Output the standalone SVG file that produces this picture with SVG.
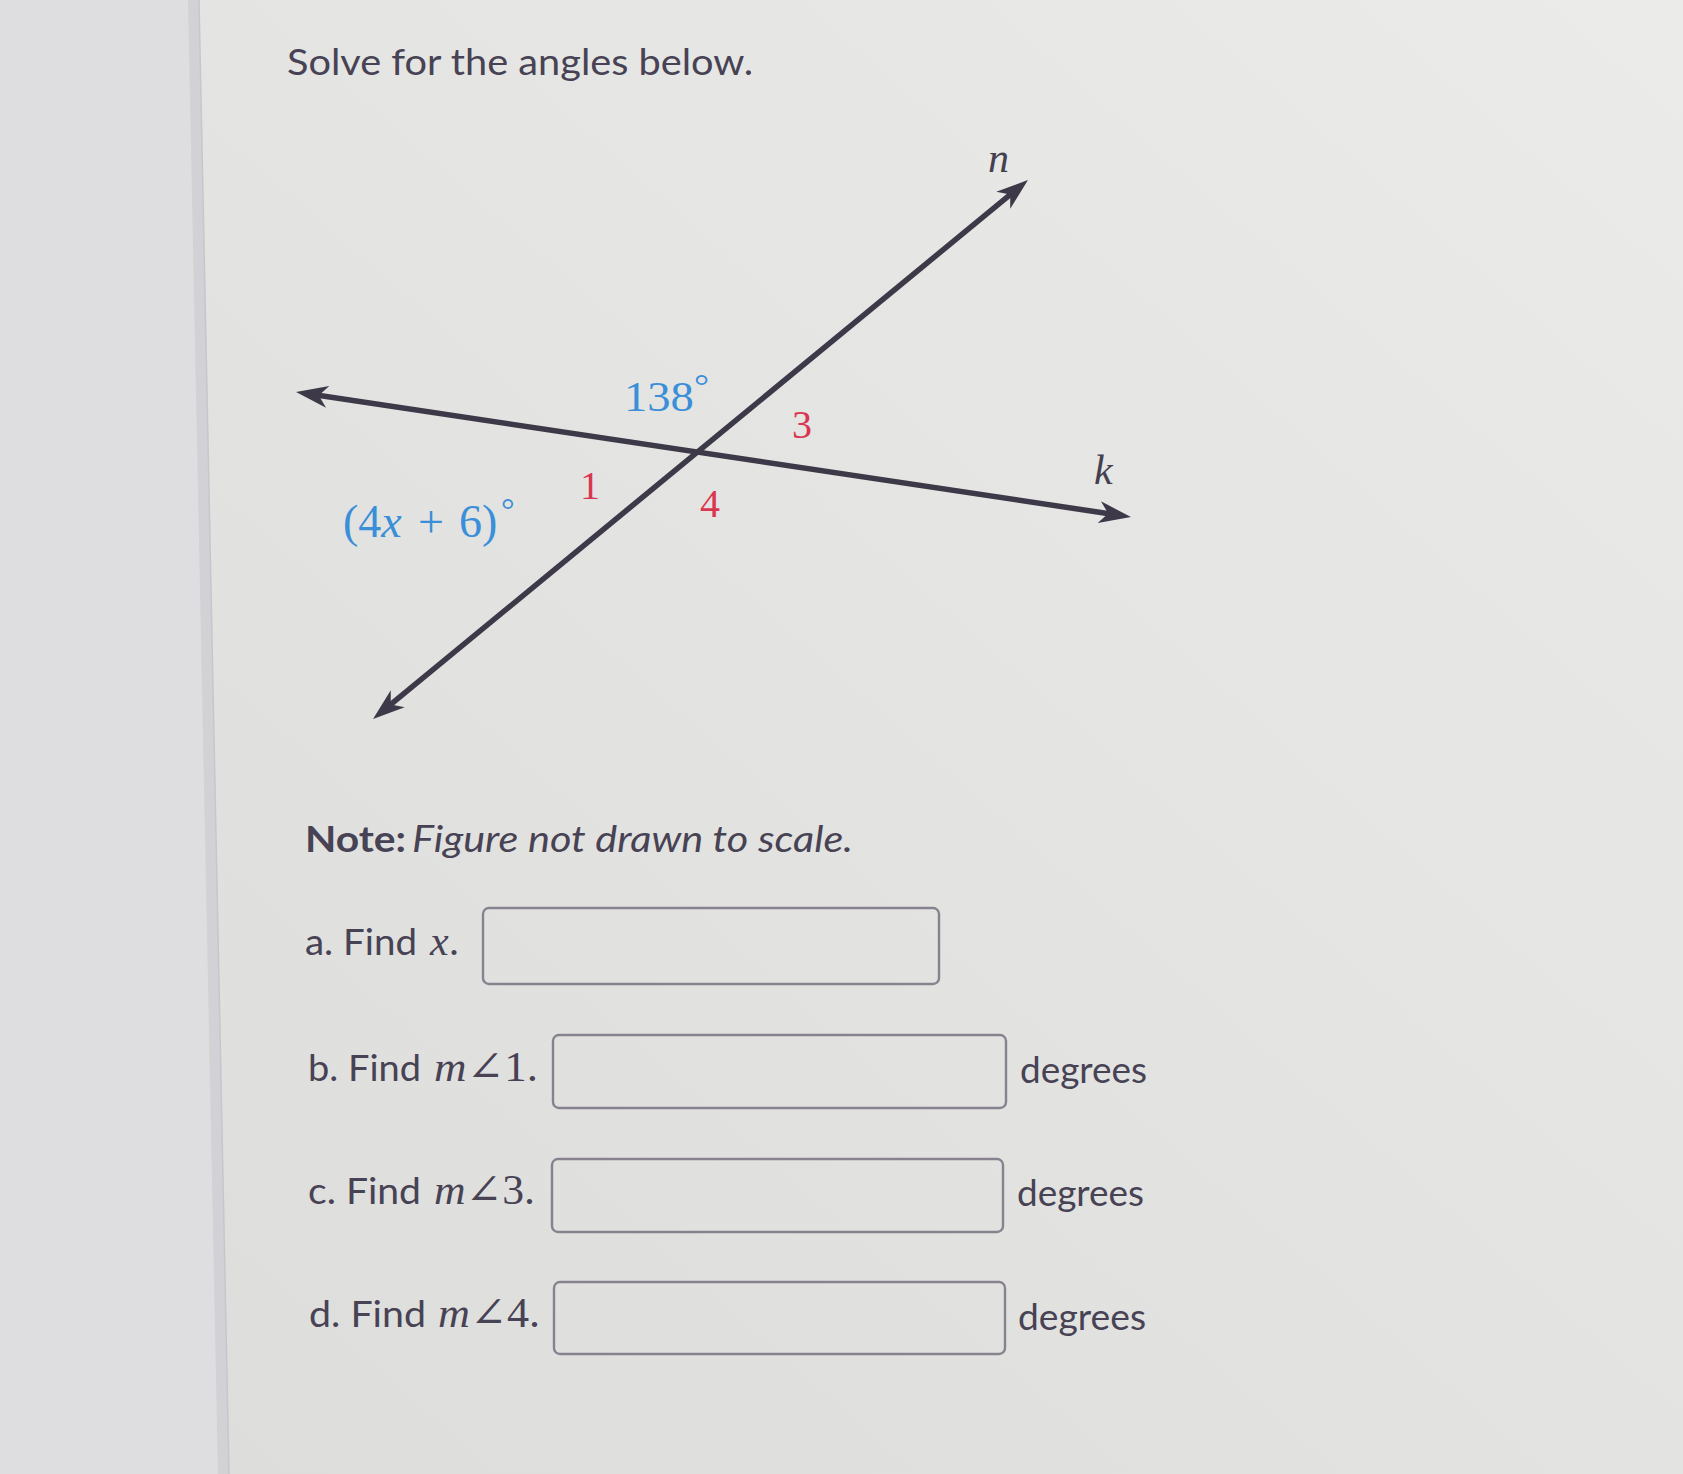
<svg xmlns="http://www.w3.org/2000/svg" width="1683" height="1474" viewBox="0 0 1683 1474">
  <defs>
    <linearGradient id="pageBg" x1="0" y1="1" x2="1" y2="0">
      <stop offset="0" stop-color="#dcdcdb"/>
      <stop offset="0.5" stop-color="#e3e3e1"/>
      <stop offset="1" stop-color="#ebebe9"/>
    </linearGradient>
    <marker id="arr" viewBox="-40 -14 44 28" markerUnits="userSpaceOnUse" markerWidth="44" markerHeight="28" refX="-12" refY="0" orient="auto-start-reverse">
      <path d="M0,0 L-32,-11 L-23,0 L-32,11 Z" fill="#3d3948"/>
    </marker>
    <style>
      .sans { font-family: Lato, "Open Sans", "DejaVu Sans", sans-serif; fill: #474254; font-size: 36px; }
      .math { font-family: "Liberation Serif", "DejaVu Serif", serif; font-size: 42px; }
      .it { font-style: italic; }
      .blue { fill: #3a8fd8; font-family: "Liberation Serif", serif; font-size: 42px; }
      .big { font-size: 46px; }
      .red { fill: #d9364f; font-family: "Liberation Serif", serif; font-size: 40px; }
      .lbl { fill: #45404f; font-family: "Liberation Serif", serif; font-style: italic; font-size: 42px; }
      .deg { font-size: 34px; }
      .line { stroke: #3d3948; stroke-width: 5.5; fill: none; marker-start: url(#arr); marker-end: url(#arr); }
      .box { fill: none; stroke: #87828e; stroke-width: 2.4; }
    </style>
  </defs>

  <!-- background -->
  <rect x="0" y="0" width="1683" height="1474" fill="url(#pageBg)"/>
  <polygon points="0,0 199,0 229,1474 0,1474" fill="#dedee1"/>
  <polygon points="188,0 199,0 229,1474 218,1474" fill="#d1d1d6"/>
  <line x1="199" y1="0" x2="229" y2="1474" stroke="#c6c6cc" stroke-width="1.5"/>

  <!-- title -->
  <text id="title" class="sans" x="287" y="75" textLength="466" lengthAdjust="spacingAndGlyphs">Solve for the angles below.</text>

  <!-- connectors: the two lines -->
  <g id="connectors">
    <line id="line-k" class="line" x1="307.9" y1="393.8" x2="1119.1" y2="515.2"/>
    <line id="line-n" class="line" x1="382.3" y1="711.4" x2="1018.7" y2="187.6"/>
  </g>

  <!-- labels -->
  <g id="label-n"><text class="lbl" x="988" y="172">n</text></g>
  <g id="label-k"><text class="lbl" x="1094" y="484">k</text></g>
  <g id="label-138"><text class="blue" x="624" y="411" textLength="85" lengthAdjust="spacingAndGlyphs">138<tspan class="deg" dy="-14">°</tspan></text></g>
  <g id="label-3"><text class="red" x="792" y="438">3</text></g>
  <g id="label-1"><text class="red" x="580" y="499">1</text></g>
  <g id="label-4"><text class="red" x="700" y="517">4</text></g>
  <g id="label-4x6"><text class="blue big" y="537"><tspan x="343">(4<tspan font-style="italic">x</tspan></tspan><tspan x="418">+</tspan><tspan x="459">6)</tspan><tspan x="501" class="deg" dy="-16">°</tspan></text></g>

  <!-- note -->
  <g id="note">
    <text class="sans" y="852"><tspan x="305" font-weight="bold" textLength="101" lengthAdjust="spacingAndGlyphs">Note:</tspan><tspan x="412" font-style="italic" textLength="441" lengthAdjust="spacingAndGlyphs">Figure not drawn to scale.</tspan></text>
  </g>

  <!-- question a -->
  <g id="q-a">
    <text class="sans" y="955"><tspan x="305" textLength="112" lengthAdjust="spacingAndGlyphs">a. Find</tspan><tspan x="430" class="math it">x</tspan><tspan class="math">.</tspan></text>
    <rect class="box" x="483" y="908" width="456" height="76" rx="6"/>
  </g>

  <!-- question b -->
  <g id="q-b">
    <text class="sans" y="1081"><tspan x="308" textLength="113" lengthAdjust="spacingAndGlyphs">b. Find</tspan><tspan x="434" class="math" textLength="104" lengthAdjust="spacingAndGlyphs"><tspan class="it">m</tspan>∠1.</tspan></text>
    <rect class="box" x="553" y="1035" width="453" height="73" rx="6"/>
    <text class="sans" x="1020" y="1083" textLength="127" lengthAdjust="spacingAndGlyphs">degrees</text>
  </g>

  <!-- question c -->
  <g id="q-c">
    <text class="sans" y="1204"><tspan x="308" textLength="113" lengthAdjust="spacingAndGlyphs">c. Find</tspan><tspan x="434" class="math" textLength="101" lengthAdjust="spacingAndGlyphs"><tspan class="it">m</tspan>∠3.</tspan></text>
    <rect class="box" x="552" y="1159" width="451" height="73" rx="6"/>
    <text class="sans" x="1017" y="1206" textLength="127" lengthAdjust="spacingAndGlyphs">degrees</text>
  </g>

  <!-- question d -->
  <g id="q-d">
    <text class="sans" y="1327"><tspan x="309" textLength="117" lengthAdjust="spacingAndGlyphs">d. Find</tspan><tspan x="438" class="math" textLength="102" lengthAdjust="spacingAndGlyphs"><tspan class="it">m</tspan>∠4.</tspan></text>
    <rect class="box" x="554" y="1282" width="451" height="72" rx="6"/>
    <text class="sans" x="1018" y="1330" textLength="128" lengthAdjust="spacingAndGlyphs">degrees</text>
  </g>
</svg>
